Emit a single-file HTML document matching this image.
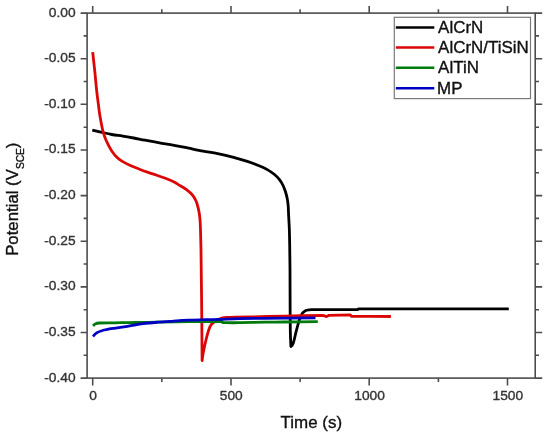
<!DOCTYPE html>
<html><head><meta charset="utf-8"><style>
html,body{margin:0;padding:0;background:#fff;width:550px;height:436px;overflow:hidden}
svg{display:block}
</style></head><body><svg width="550" height="436" viewBox="0 0 550 436"><rect x="87.1" y="13.1" width="448.1" height="365.0" fill="none" stroke="#4d4d4d" stroke-width="1.6"/><path d="M80.6 13.1H87.1M535.2 13.1H542.2M80.6 58.7H87.1M535.2 58.7H542.2M80.6 104.3H87.1M535.2 104.3H542.2M80.6 150.0H87.1M535.2 150.0H542.2M80.6 195.6H87.1M535.2 195.6H542.2M80.6 241.2H87.1M535.2 241.2H542.2M80.6 286.9H87.1M535.2 286.9H542.2M80.6 332.5H87.1M535.2 332.5H542.2M80.6 378.1H87.1M535.2 378.1H542.2M83.6 35.9H87.1M535.2 35.9H539.0M83.6 81.5H87.1M535.2 81.5H539.0M83.6 127.2H87.1M535.2 127.2H539.0M83.6 172.8H87.1M535.2 172.8H539.0M83.6 218.4H87.1M535.2 218.4H539.0M83.6 264.0H87.1M535.2 264.0H539.0M83.6 309.7H87.1M535.2 309.7H539.0M83.6 355.3H87.1M535.2 355.3H539.0M92.7 378.1V385.4M92.7 13.1V6.1M231.0 378.1V385.4M231.0 13.1V6.1M369.2 378.1V385.4M369.2 13.1V6.1M507.5 378.1V385.4M507.5 13.1V6.1M161.8 378.1V381.9M161.8 13.1V9.3M300.1 378.1V381.9M300.1 13.1V9.3M438.4 378.1V381.9M438.4 13.1V9.3" fill="none" stroke="#4d4d4d" stroke-width="1.6"/><text transform="translate(75.60 16.50) scale(1.035 1)" text-anchor="end" font-family="Liberation Sans, Arial, sans-serif" font-size="13.3" fill="#333333" stroke="#333333" stroke-width="0.35">0.00</text><text transform="translate(75.60 62.12) scale(1.035 1)" text-anchor="end" font-family="Liberation Sans, Arial, sans-serif" font-size="13.3" fill="#333333" stroke="#333333" stroke-width="0.35">-0.05</text><text transform="translate(75.60 107.75) scale(1.035 1)" text-anchor="end" font-family="Liberation Sans, Arial, sans-serif" font-size="13.3" fill="#333333" stroke="#333333" stroke-width="0.35">-0.10</text><text transform="translate(75.60 153.38) scale(1.035 1)" text-anchor="end" font-family="Liberation Sans, Arial, sans-serif" font-size="13.3" fill="#333333" stroke="#333333" stroke-width="0.35">-0.15</text><text transform="translate(75.60 199.00) scale(1.035 1)" text-anchor="end" font-family="Liberation Sans, Arial, sans-serif" font-size="13.3" fill="#333333" stroke="#333333" stroke-width="0.35">-0.20</text><text transform="translate(75.60 244.62) scale(1.035 1)" text-anchor="end" font-family="Liberation Sans, Arial, sans-serif" font-size="13.3" fill="#333333" stroke="#333333" stroke-width="0.35">-0.25</text><text transform="translate(75.60 290.25) scale(1.035 1)" text-anchor="end" font-family="Liberation Sans, Arial, sans-serif" font-size="13.3" fill="#333333" stroke="#333333" stroke-width="0.35">-0.30</text><text transform="translate(75.60 335.88) scale(1.035 1)" text-anchor="end" font-family="Liberation Sans, Arial, sans-serif" font-size="13.3" fill="#333333" stroke="#333333" stroke-width="0.35">-0.35</text><text transform="translate(75.60 381.50) scale(1.035 1)" text-anchor="end" font-family="Liberation Sans, Arial, sans-serif" font-size="13.3" fill="#333333" stroke="#333333" stroke-width="0.35">-0.40</text><text transform="translate(93.00 399.80) scale(1.035 1)" text-anchor="middle" font-family="Liberation Sans, Arial, sans-serif" font-size="13.3" fill="#333333" stroke="#333333" stroke-width="0.35">0</text><text transform="translate(231.26 399.80) scale(1.035 1)" text-anchor="middle" font-family="Liberation Sans, Arial, sans-serif" font-size="13.3" fill="#333333" stroke="#333333" stroke-width="0.35">500</text><text transform="translate(369.53 399.80) scale(1.035 1)" text-anchor="middle" font-family="Liberation Sans, Arial, sans-serif" font-size="13.3" fill="#333333" stroke="#333333" stroke-width="0.35">1000</text><text transform="translate(507.80 399.80) scale(1.035 1)" text-anchor="middle" font-family="Liberation Sans, Arial, sans-serif" font-size="13.3" fill="#333333" stroke="#333333" stroke-width="0.35">1500</text><text transform="translate(311.30 427.70) scale(1.035 1)" text-anchor="middle" font-family="Liberation Sans, Arial, sans-serif" font-size="16.4" fill="#111" stroke="#111" stroke-width="0.35">Time (s)</text><text transform="translate(17.8 199.2) rotate(-90) scale(1 1.035)" text-anchor="middle" font-family="Liberation Sans, Arial, sans-serif" font-size="16.8" fill="#111" stroke="#111" stroke-width="0.35">Potential (V<tspan font-size="10.2" dy="6">SCE</tspan><tspan dy="-6">)</tspan></text><path d="M92.30 130.10C93.73 130.43 97.65 131.37 100.90 132.10C104.15 132.83 108.17 133.83 111.80 134.50C115.43 135.17 119.07 135.52 122.70 136.10C126.33 136.68 129.88 137.32 133.60 138.00C137.32 138.68 140.68 139.40 145.00 140.20C149.32 141.00 154.65 141.95 159.50 142.80C164.35 143.65 169.25 144.40 174.10 145.30C178.95 146.20 183.75 147.23 188.60 148.20C193.45 149.17 198.35 150.20 203.20 151.10C208.05 152.00 212.63 152.57 217.70 153.60C222.77 154.63 228.67 156.00 233.60 157.30C238.53 158.60 242.75 159.87 247.30 161.40C251.85 162.93 257.50 165.08 260.90 166.50C264.30 167.92 265.43 168.57 267.70 169.90C269.97 171.23 272.53 172.88 274.50 174.50C276.47 176.12 278.12 177.85 279.50 179.60C280.88 181.35 281.82 183.02 282.80 185.00C283.78 186.98 284.67 189.25 285.40 191.50C286.13 193.75 286.73 196.08 287.20 198.50C287.67 200.92 287.97 203.25 288.20 206.00C288.43 208.75 288.42 211.32 288.60 215.00C288.78 218.68 289.12 223.10 289.30 228.10C289.48 233.10 289.58 238.02 289.70 245.00C289.82 251.98 289.93 260.83 290.00 270.00C290.07 279.17 290.05 290.00 290.10 300.00C290.15 310.00 290.17 322.25 290.30 330.00C290.43 337.75 290.80 343.75 290.90 346.50C291.30 345.92 292.37 345.73 293.30 343.00C294.23 340.27 295.43 334.12 296.50 330.10C297.57 326.08 298.75 321.67 299.70 318.90C300.65 316.13 301.15 314.92 302.20 313.50C303.25 312.08 305.37 310.92 306.00 310.40C306.95 310.28 307.70 309.82 311.70 309.70C315.70 309.58 322.38 309.70 330.00 309.70C337.62 309.70 352.83 309.70 357.40 309.70C357.57 309.57 358.23 309.03 358.40 308.90C368.67 308.90 394.93 308.90 420.00 308.90C445.07 308.90 494.00 308.90 508.80 308.90" fill="none" stroke="#000000" stroke-width="2.8" stroke-linejoin="round" stroke-linecap="butt"/><path d="M92.70 52.20C93.07 55.58 94.22 65.90 94.90 72.50C95.58 79.10 96.18 86.22 96.80 91.80C97.42 97.38 98.17 102.55 98.60 106.00C99.03 109.45 99.08 110.33 99.40 112.50C99.72 114.67 100.10 116.75 100.50 119.00C100.90 121.25 101.40 124.00 101.80 126.00C102.20 128.00 102.43 129.27 102.90 131.00C103.37 132.73 103.95 134.60 104.60 136.40C105.25 138.20 106.10 140.23 106.80 141.80C107.50 143.37 107.95 144.23 108.80 145.80C109.65 147.37 110.52 149.23 111.90 151.20C113.28 153.17 115.37 155.90 117.10 157.60C118.83 159.30 120.00 160.05 122.30 161.40C124.60 162.75 128.03 164.40 130.90 165.70C133.77 167.00 136.62 168.08 139.50 169.20C142.38 170.32 145.32 171.40 148.20 172.40C151.08 173.40 153.93 174.22 156.80 175.20C159.67 176.18 162.52 177.17 165.40 178.30C168.28 179.43 171.95 180.95 174.10 182.00C176.25 183.05 176.90 183.77 178.30 184.60C179.70 185.43 181.13 186.17 182.50 187.00C183.87 187.83 185.25 188.68 186.50 189.60C187.75 190.52 188.97 191.53 190.00 192.50C191.03 193.47 191.87 194.32 192.70 195.40C193.53 196.48 194.32 197.73 195.00 199.00C195.68 200.27 196.15 200.95 196.80 203.00C197.45 205.05 198.37 208.55 198.90 211.30C199.43 214.05 199.73 216.38 200.00 219.50C200.27 222.62 200.33 224.92 200.50 230.00C200.67 235.08 200.87 242.33 201.00 250.00C201.13 257.67 201.20 267.67 201.30 276.00C201.40 284.33 201.50 290.17 201.60 300.00C201.70 309.83 201.82 324.90 201.90 335.00C201.98 345.10 202.07 356.33 202.10 360.60C202.30 359.23 202.63 355.92 203.30 352.40C203.97 348.88 205.17 343.33 206.10 339.50C207.03 335.67 207.98 331.95 208.90 329.40C209.82 326.85 210.53 325.55 211.60 324.20C212.67 322.85 214.07 322.12 215.30 321.30C216.53 320.48 217.80 319.87 219.00 319.30C220.20 318.73 221.13 318.22 222.50 317.90C223.87 317.58 225.20 317.52 227.20 317.40C229.20 317.28 229.03 317.32 234.50 317.20C239.97 317.08 251.73 316.88 260.00 316.70C268.27 316.52 273.68 316.33 284.10 316.10C294.52 315.87 316.10 315.43 322.50 315.30C323.17 315.52 325.83 316.38 326.50 316.60C326.92 316.38 328.58 315.52 329.00 315.30C332.55 315.23 346.75 314.97 350.30 314.90C350.50 315.15 351.30 316.15 351.50 316.40C358.07 316.42 384.33 316.48 390.90 316.50" fill="none" stroke="#dc0606" stroke-width="2.8" stroke-linejoin="round" stroke-linecap="butt"/><path d="M93.00 325.90C93.37 325.58 94.12 324.48 95.20 324.00C96.28 323.52 96.35 323.20 99.50 323.00C102.65 322.80 109.25 322.87 114.10 322.80C118.95 322.73 123.75 322.67 128.60 322.60C133.45 322.53 138.35 322.47 143.20 322.40C148.05 322.33 150.05 322.33 157.70 322.20C165.35 322.07 179.02 321.72 189.10 321.60C199.18 321.48 212.72 321.52 218.20 321.50C223.68 321.48 221.37 321.50 222.00 321.50C222.13 321.70 222.67 322.50 222.80 322.70C225.67 322.70 232.97 322.80 240.00 322.70C247.03 322.60 257.67 322.22 265.00 322.10C272.33 321.98 275.20 322.07 284.00 322.00C292.80 321.93 312.17 321.75 317.80 321.70" fill="none" stroke="#007a0c" stroke-width="2.8" stroke-linejoin="round" stroke-linecap="butt"/><path d="M93.00 336.40C93.60 335.82 95.02 333.88 96.60 332.90C98.18 331.92 99.58 331.27 102.50 330.50C105.42 329.73 109.75 329.03 114.10 328.30C118.45 327.57 123.75 326.87 128.60 326.10C133.45 325.33 138.35 324.35 143.20 323.70C148.05 323.05 153.23 322.60 157.70 322.20C162.17 321.80 164.77 321.63 170.00 321.30C175.23 320.97 181.07 320.52 189.10 320.20C197.13 319.88 209.72 319.67 218.20 319.40C226.68 319.13 229.03 318.82 240.00 318.60C250.97 318.38 271.42 318.23 284.00 318.10C296.58 317.97 310.25 317.85 315.50 317.80" fill="none" stroke="#0000c4" stroke-width="2.8" stroke-linejoin="round" stroke-linecap="butt"/><rect x="394.3" y="17.3" width="136.2" height="81.3" fill="#fff" stroke="#7a7a7a" stroke-width="1.2"/><path d="M395.8 27.4H434.3" stroke="#000000" stroke-width="2.5"/><text transform="translate(438.10 33.00) scale(1.035 1)" text-anchor="start" font-family="Liberation Sans, Arial, sans-serif" font-size="16.4" fill="#111" stroke="#111" stroke-width="0.35">AlCrN</text><path d="M395.8 47.4H434.3" stroke="#dc0606" stroke-width="2.5"/><text transform="translate(438.10 53.00) scale(1.035 1)" text-anchor="start" font-family="Liberation Sans, Arial, sans-serif" font-size="16.4" fill="#111" stroke="#111" stroke-width="0.35">AlCrN/TiSiN</text><path d="M395.8 67.8H434.3" stroke="#007a0c" stroke-width="2.5"/><text transform="translate(438.10 73.40) scale(1.035 1)" text-anchor="start" font-family="Liberation Sans, Arial, sans-serif" font-size="16.4" fill="#111" stroke="#111" stroke-width="0.35">AlTiN</text><path d="M395.8 88.2H434.3" stroke="#0000c4" stroke-width="2.5"/><text transform="translate(437.10 93.80) scale(1.035 1)" text-anchor="start" font-family="Liberation Sans, Arial, sans-serif" font-size="16.4" fill="#111" stroke="#111" stroke-width="0.35">MP</text></svg></body></html>
